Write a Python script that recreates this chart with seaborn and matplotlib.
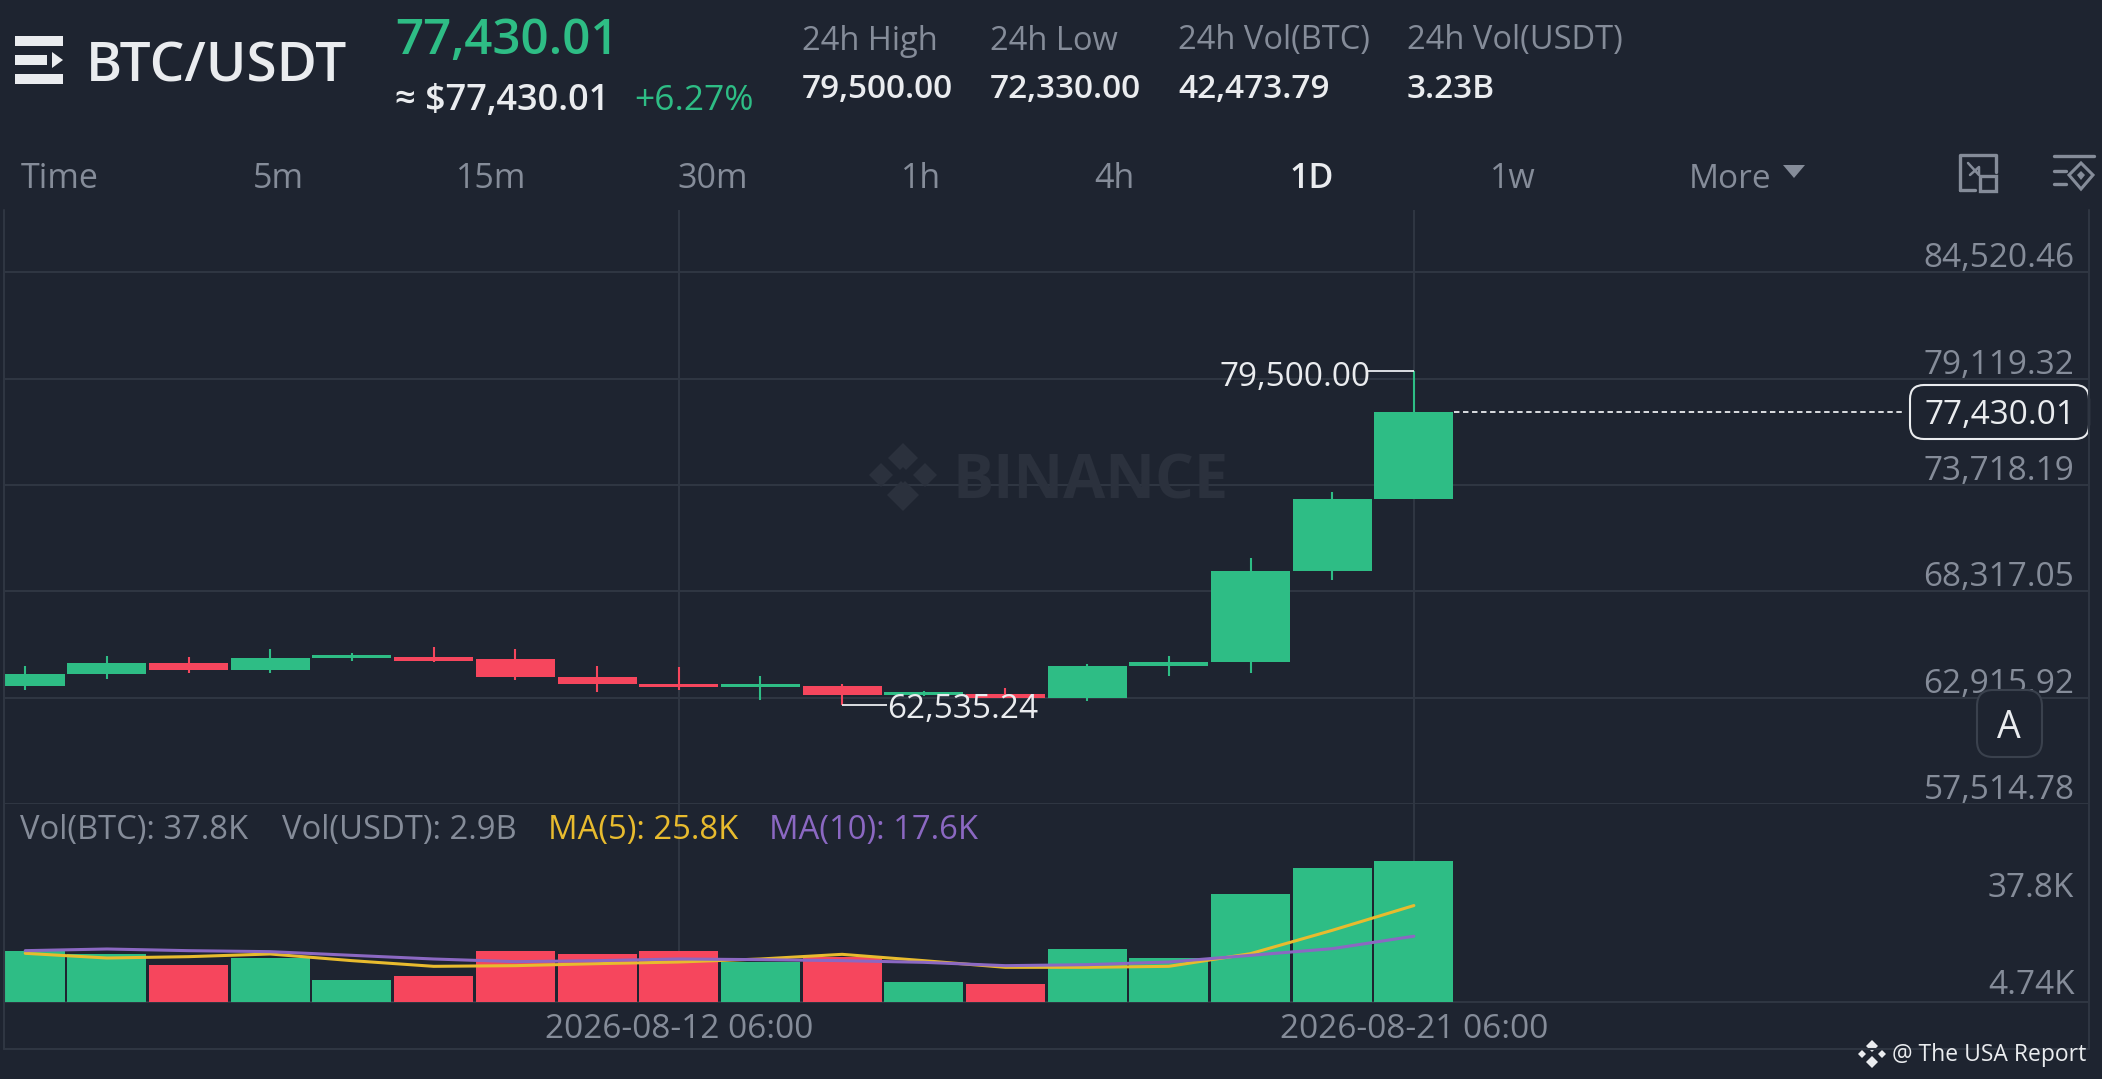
import numpy as np
import matplotlib
matplotlib.use("Agg")
import matplotlib.pyplot as plt
import seaborn as sns
from matplotlib.patches import FancyBboxPatch, Polygon, Rectangle
from matplotlib.transforms import ScaledTranslation

# candles, one per day
days = np.arange(18)
opens = np.array([63527, 64103, 64679, 64323, 64916, 64967, 64899, 63985, 63612,
                  63477, 63510, 63070, 63104, 62917, 64543, 64712, 69336, 73012])
closes = np.array([64103, 64662, 64306, 64916, 65085, 64797, 63968, 63595, 63443,
                   63629, 63036, 63189, 62901, 64526, 64729, 69336, 73012, 77430.01])
highs = np.array([64544, 65018, 64984, 65390, 65204, 65475, 65390, 64510, 64493,
                  64018, 63612, 63239, 63392, 64628, 65051, 69997, 73384, 79500])
lows = np.array([63290, 63866, 64154, 64171, 64781, 64713, 63798, 63222, 63307,
                 62799, 62535.24, 63002, 62884, 62764, 64018, 64188, 68913, 73012])

volumes = np.array([13643, 12840, 9898, 11860, 5796, 7044, 13643, 12929, 13643,
                    10789, 12127, 5439, 4815, 14178, 11680, 28890, 35845, 37800])
ma5 = [13019, 11770, 12127, 12840, 11057, 9541, 9720, 10255, 10700,
       11503, 12751, 11057, 9274, 9274, 9541, 12930, 19172, 25800]
ma10 = [13732, 14178, 13732, 13465, 12484, 11503, 10790, 11057, 11503,
        11325, 11057, 10611, 9720, 9987, 10700, 12484, 14267, 17600]

price_ticks = [84520.46, 79119.32, 73718.19, 68317.05, 62915.92, 57514.78]
vol_tick_pos = [31300, 5350]
vol_tick_labels = ["37.8K", "4.74K"]
date_ticks = [8, 17]
date_labels = ["2026-08-12 06:00", "2026-08-21 06:00"]

BG = "#1e2430"
GRID = "#2f3642"
GRAY = "#858c99"
WHITE = "#eaecef"
GREEN = "#2ebd85"
RED = "#f6465d"
YELLOW = "#e8bb2e"
PURPLE = "#8b68c2"
W, H = 2102, 1079

sns.set_theme(style="dark", rc={"axes.facecolor": BG, "figure.facecolor": BG})
plt.rcParams["font.family"] = ["Open Sans", "DejaVu Sans"]

fig = plt.figure(figsize=(W / 100, H / 100), dpi=100)


def px_axes(left, top, right, bottom):
    return fig.add_axes([left / W, 1 - bottom / H, (right - left) / W, (bottom - top) / H])


ax = px_axes(4, 210, 2089, 804)
ax_vol = px_axes(4, 804, 2089, 1002)
x_lim = (-0.26, 25.265)

# price panel
up = closes >= opens
for mask, color in [(up, GREEN), (~up, RED)]:
    ax.vlines(days[mask], lows[mask], highs[mask], color=color, lw=1.5, zorder=3)
    sns.barplot(x=days[mask], y=np.abs(closes - opens)[mask], bottom=np.minimum(opens, closes)[mask],
                native_scale=True, color=color, saturation=1, width=0.967, errorbar=None,
                linewidth=0, ax=ax, zorder=3)

ax.set_xlim(x_lim)
ax.set_ylim(57514.78, 87696)
ax.yaxis.tick_right()
ax.set_yticks(price_ticks, [f"{p:,.2f}" for p in price_ticks])
ax.set_xticks(date_ticks, [])
ax.tick_params(axis="y", length=0, pad=-10.5, labelsize=24, labelcolor=GRAY)
ax.tick_params(axis="x", length=0)
for tick_label in ax.get_yticklabels():
    tick_label.set_ha("right")
    tick_label.set_transform(tick_label.get_transform() + ScaledTranslation(0, 0.175, fig.dpi_scale_trans))
ax.grid(True, color=GRID, lw=1.5, zorder=0)
ax.set_xlabel("")
ax.set_ylabel("")
ax.set_axisbelow(True)
sns.despine(ax=ax, left=True, bottom=True, right=True, top=True)

# high / low callouts
ax.hlines(79500, 16.44, 17, color=WHITE, lw=1.3, zorder=4)
ax.hlines(62535.24, 10, 10.55, color=WHITE, lw=1.3, zorder=4)
ax.annotate("79,500.00", xy=(17, 79500), xytext=(-43, -6), textcoords="offset pixels", ha="right", va="center",
            color=WHITE, fontsize=24, zorder=6)
ax.annotate("62,535.24", xy=(10, 62535.24), xytext=(45, -4), textcoords="offset pixels", ha="left", va="center",
            color=WHITE, fontsize=24, zorder=6)
ax.hlines(closes[-1], 17.49, 23.0, color=WHITE, lw=1.3, ls=(0, (3, 2)), zorder=2)

# volume panel
for mask, color in [(up, GREEN), (~up, RED)]:
    sns.barplot(x=days[mask], y=volumes[mask], native_scale=True, color=color, saturation=1,
                width=0.967, errorbar=None, linewidth=0, ax=ax_vol, zorder=3)
sns.lineplot(x=days, y=ma5, color=YELLOW, lw=2.2, estimator=None, ax=ax_vol, zorder=4)
sns.lineplot(x=days, y=ma10, color=PURPLE, lw=2.2, estimator=None, ax=ax_vol, zorder=5)

ax_vol.set_xlim(x_lim)
ax_vol.set_ylim(0, 52965)
ax_vol.yaxis.tick_right()
ax_vol.set_yticks(vol_tick_pos, vol_tick_labels)
ax_vol.set_xticks(date_ticks, date_labels)
ax_vol.tick_params(axis="y", length=0, pad=-10.5, labelsize=24, labelcolor=GRAY)
ax_vol.tick_params(axis="x", length=0, pad=8, labelsize=24, labelcolor=GRAY)
for tick_label in ax_vol.get_yticklabels():
    tick_label.set_ha("right")
ax_vol.grid(True, axis="x", color=GRID, lw=1.5, zorder=0)
ax_vol.grid(False, axis="y")
ax_vol.set_xlabel("")
ax_vol.set_ylabel("")
ax_vol.set_axisbelow(True)
sns.despine(ax=ax_vol, left=True, right=True, top=True)
ax_vol.spines["bottom"].set_color(GRID)
ax_vol.spines["bottom"].set_linewidth(1.5)

# everything around the plot, in pixel coordinates
ui = fig.add_axes([0, 0, 1, 1], zorder=10)
ui.set_xlim(0, W)
ui.set_ylim(H, 0)
ui.axis("off")
ui.patch.set_alpha(0)


def label(x, y, s, color=GRAY, size=24, weight="normal", ha="left"):
    ui.text(x, y + 3, s, color=color, fontsize=size, fontweight=weight, ha=ha, va="center")


# frame
ui.plot([3.5, 3.5], [210, 1049], color=GRID, lw=1.5)
ui.plot([2089, 2089], [210, 1049], color=GRID, lw=1.5)
ui.plot([3.5, 2089], [1049, 1049], color=GRID, lw=1.5)

# header
ui.add_patch(Rectangle((15, 36), 48, 10, color=WHITE, lw=0))
ui.add_patch(Rectangle((15, 55), 32, 10, color=WHITE, lw=0))
ui.add_patch(Polygon([[52, 52], [63, 60], [52, 68]], color=WHITE, lw=0))
ui.add_patch(Rectangle((15, 74), 48, 10, color=WHITE, lw=0))
label(86, 64, "BTC/USDT", WHITE, 39.5, "semibold")
label(395, 39, "77,430.01", GREEN, 35.5, "semibold")
label(395, 98, "≈ $77,430.01", WHITE, 26, "semibold")
label(634, 98, "+6.27%", GREEN, 25.5)
for x, head, val in [(802, "24h High", "79,500.00"), (990, "24h Low", "72,330.00"),
                     (1178, "24h Vol(BTC)", "42,473.79"), (1407, "24h Vol(USDT)", "3.23B")]:
    label(x, 38, head, GRAY, 23.5)
    label(x, 86, val, WHITE, 24, "semibold")

# interval tabs
label(21, 176, "Time", GRAY, 24.5)
for x, s in [(278, "5m"), (491, "15m"), (713, "30m"), (921, "1h"), (1114, "4h"), (1513, "1w")]:
    label(x, 176, s, GRAY, 24.5, ha="center")
label(1312, 176, "1D", WHITE, 24.5, "semibold", ha="center")
label(1689, 176, "More", GRAY, 24)
ui.add_patch(Polygon([[1783, 165], [1805, 165], [1794, 178]], color=GRAY, lw=0))

# expand + settings icons
ui.plot([1960, 1960, 1996, 1996], [190, 155, 155, 172], color=GRAY, lw=2.4)
ui.plot([1960, 1975], [190, 190], color=GRAY, lw=2.4)
ui.add_patch(Rectangle((1980, 176), 16, 15, fill=False, ec=GRAY, lw=2.4))
ui.plot([1968, 1979, 1979, 1970], [163, 175, 167, 175], color=GRAY, lw=1.8)
ui.plot([2054, 2094], [156, 156], color=GRAY, lw=2.4)
ui.plot([2054, 2066], [171, 171], color=GRAY, lw=2.4)
ui.plot([2054, 2066], [184, 184], color=GRAY, lw=2.4)
ui.add_patch(Polygon([[2081, 163], [2093, 175], [2081, 189], [2069, 175]], fill=False, ec=GRAY, lw=2.2))
ui.add_patch(Polygon([[2081, 171], [2085, 175], [2081, 180], [2077, 175]], color=GRAY, lw=0))

# volume legend
label(20, 827, "Vol(BTC): 37.8K", GRAY, 23.6)
label(282, 827, "Vol(USDT): 2.9B", GRAY, 23.6)
label(548, 827, "MA(5): 25.8K", YELLOW, 23.6)
label(769, 827, "MA(10): 17.6K", PURPLE, 23.6)

# watermark
WM = "#2b313d"
label(952, 480, "BINANCE", WM, 44, "bold")
for cx, cy, r in [(903, 458, 15), (881, 475, 12), (925, 475, 12), (903, 495, 16)]:
    ui.add_patch(Polygon([[cx, cy - r], [cx + r, cy], [cx, cy + r], [cx - r, cy]], color=WM, lw=0))
ui.add_patch(Polygon([[903, 467], [911, 475], [903, 483], [895, 475]], color=BG, lw=0))

# last price tag and auto button
ui.add_patch(FancyBboxPatch((1918, 393), 163, 38, boxstyle="round,pad=8,rounding_size=14",
                            fc=BG, ec=WHITE, lw=1.5))
label(2075, 412, "77,430.01", WHITE, 24, ha="right")
ui.add_patch(FancyBboxPatch((1985, 698), 49, 51, boxstyle="round,pad=8,rounding_size=16",
                            fc=BG, ec="#3a414d", lw=1.5))
label(2009, 725, "A", WHITE, 27, ha="center")

# credit
for cx, cy, r in [(1872, 1046, 6), (1862, 1054, 4), (1882, 1054, 4), (1872, 1062, 6)]:
    ui.add_patch(Polygon([[cx, cy - r], [cx + r, cy], [cx, cy + r], [cx - r, cy]], color=WHITE, lw=0))
label(1892, 1052, "@ The USA Report", WHITE, 16.5)

fig.savefig("out.png", dpi=100, facecolor=BG)
